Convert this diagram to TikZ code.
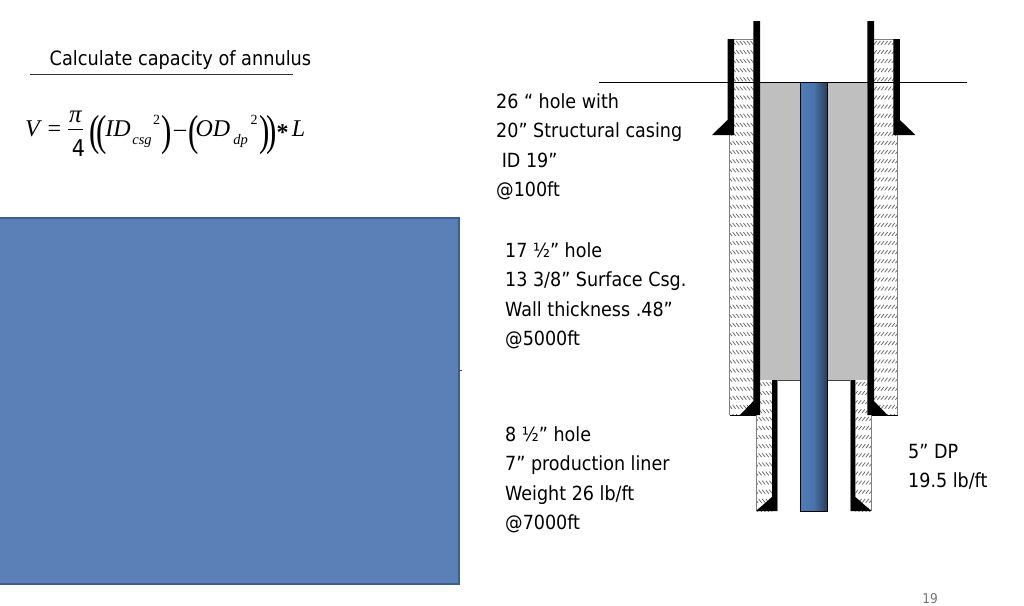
\documentclass[tikz,border=0pt]{standalone}
\usepackage{fontspec}
\setmainfont{DejaVu Sans Condensed}
\newfontfamily\tms{Liberation Serif}
\definecolor{boxblue}{HTML}{5A80B7}
\definecolor{boxedge}{HTML}{3D5F8C}
\definecolor{annul}{HTML}{BFBFBF}
\definecolor{pipeA}{HTML}{4F7DB8}
\definecolor{pipeB}{HTML}{2A3D5C}
\definecolor{hatchgrey}{HTML}{6A6A6A}
\tikzset{
  label text/.style={anchor=north west,align=left,inner sep=0pt,font=\fontsize{19.5}{29.5}\selectfont,text=black},
  title text/.style={label text,anchor=base west,font=\fontsize{19.7}{24}\selectfont},
  fm/.style={anchor=base,inner sep=0pt,font=\tms\fontsize{24}{26}\selectfont},
  fmi/.style={fm,font=\tms\itshape\fontsize{24}{26}\selectfont},
  fms/.style={fm,font=\tms\itshape\fontsize{14.5}{16}\selectfont},
  fmp/.style={fm,font=\tms\fontsize{14}{15}\selectfont},
  paren/.style={anchor=base,inner sep=0pt,font=\tms\fontsize{31}{33}\selectfont},
  steel/.style={fill=black,draw=none},
  hatchstroke/.style={draw=hatchgrey,line width=0.75pt}
}
\newcommand{\tallp}[1]{\scalebox{1}[1.4]{#1}}
\newcommand{\hatchzone}[4]{%
  \fill[white] (#1,#3) rectangle (#2,#4);
  \begin{scope}
    \clip (#1,#3) rectangle (#2,#4);
    \foreach \r in {0,...,50}{
      \foreach \c in {0,...,9}{
        \draw[hatchstroke] ({#1-1+\c*3.6},{#3+2+\r*9.1}) -- ++(3,3.8);
      }
    }
  \end{scope}
}
\newcommand{\halfwell}{%
  \hatchzone{730}{753.5}{39}{415}
  \draw[gray,line width=0.9pt] (729.5,39) -- (729.5,415) (729.5,39) -- (753,39);
  \draw[black,line width=1pt] (729.5,415) -- (756,415);
  \hatchzone{756}{772}{415}{511}
  \hatchzone{760}{772}{380}{416}
  \draw[gray,line width=0.9pt] (756,415) -- (756,511);
  \fill[steel] (727.5,39) -- (734,39) -- (734,135) -- (712,135) -- (727.5,120) -- cycle;
  \fill[steel] (753.4,21) -- (760,21) -- (760,415) -- (740,415) -- (753.4,401) -- cycle;
  \fill[steel] (772,380) -- (777,380) -- (777,511) -- (756,511) -- (772,497) -- cycle;
  \draw[gray,line width=0.8pt] (777.5,380) -- (777.5,511);
}
\begin{document}
\begin{tikzpicture}[x=1pt,y=-1pt]
\useasboundingbox (0,0) rectangle (1024,605);
\fill[white] (0,0) rectangle (1024,605);

\draw[boxedge,line width=1.6pt,fill=boxblue] (-3,218) rectangle (459,584);
\draw[black!70,line width=0.8pt] (459,370) -- (462,370);

\node[title text] (title) at (49.5,65) {Calculate capacity of annulus};
\draw[black!80,line width=0.8pt] (30,74) -- (293,74);

\node[fmi] (fV) at (32.5,136) {V};
\node[fm] (feq) at (54.5,136) {=};
\node[fmi,font=\tms\itshape\fontsize{25}{26}\selectfont] (fpi) at (75.5,122) {π};
\draw[black,line width=0.9pt] (68,129) -- (83,129);
\node[anchor=base,inner sep=0pt,font=\fontsize{23}{24}\selectfont] (ffour) at (78.5,156) {4};
\node[paren] (p1) at (95,145) {\tallp{(}};
\node[paren] (p2) at (102,145) {\tallp{(}};
\node[fmi] (fID) at (118,136) {ID};
\node[fms] (fcsg) at (142,144) {csg};
\node[fmp] (fs1) at (156.5,124) {2};
\node[paren] (p3) at (167,145) {\tallp{)}};
\node[fm] (fminus) at (180,136) {–};
\node[paren] (p4) at (194,145) {\tallp{(}};
\node[fmi] (fOD) at (213,136) {OD};
\node[fms] (fdp) at (240.5,144) {dp};
\node[fmp] (fs2) at (254,124) {2};
\node[paren] (p5) at (265,145) {\tallp{)}};
\node[paren] (p6) at (272,145) {\tallp{)}};
\node[fm,font=\tms\bfseries\fontsize{24}{26}\selectfont] (fstar) at (282.5,140) {*};
\node[fmi] (fL) at (298.5,136) {L};

\fill[annul] (760,82) rectangle (867.4,380);
\draw[black!75,line width=0.8pt] (760,380) -- (867.4,380);
\halfwell
\begin{scope}[xshift=1627.4pt,xscale=-1]
  \halfwell
\end{scope}
\shade[left color=pipeA,right color=pipeB,middle color=pipeA!85!pipeB,shading=axis] (800.7,82) rectangle (827,511);
\draw[black,line width=0.9pt] (800.7,82) rectangle (827,511);
\draw[black,line width=0.8pt] (599,82) -- (967,82);

\node[label text] (a) at (496,93) {26 “ hole with\\20” Structural casing\\\ ID 19”\\@100ft};
\node[label text] (b) at (505,242) {17 ½” hole\\13 3/8” Surface Csg.\\Wall thickness .48”\\@5000ft};
\node[label text] (c) at (505,426) {8 ½” hole\\7” production liner\\Weight 26 lb/ft\\@7000ft};
\node[label text] (d) at (908,444) {5” DP\\19.5 lb/ft};
\node[anchor=base,inner sep=0pt,font=\fontsize{13.5}{14}\selectfont,text=black!55] (pg) at (930,603.5) {19};
\end{tikzpicture}
\end{document}
